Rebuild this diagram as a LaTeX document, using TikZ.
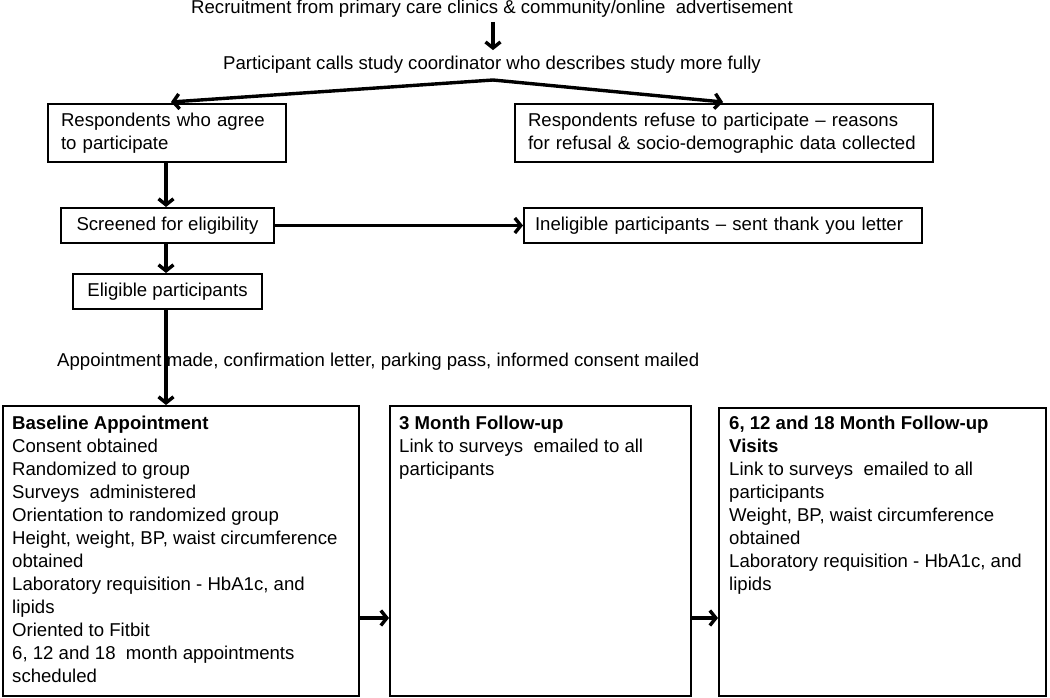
\documentclass[tikz,border=0pt]{standalone}
\usepackage{fontspec}
\setmainfont{Liberation Sans}
\usetikzlibrary{arrows.meta}
\begin{document}
\begin{tikzpicture}[x=1pt,y=-1pt,
  every node/.style={font=\fontsize{18.6}{23}\selectfont},
  box/.style={draw, line width=2pt, inner sep=0pt},
  arr/.style={line width=3.4pt, -{Straight Barb[length=6pt,width=15pt]}},
  txt/.style={inner sep=0pt, align=left, anchor=north west}]
\useasboundingbox (0,0) rectangle (1050,698);
% header texts
\node[inner sep=0pt] (rec) at (492,9) {Recruitment from primary care clinics \& community/online\ \ advertisement};
\node[inner sep=0pt] (call) at (492,65) {Participant calls study coordinator who describes study more fully};
\coordinate (split) at (493,80);
\coordinate (atip) at (171,102);
\coordinate (rtip) at (723,102);
\coordinate (colx) at (166,0);
\coordinate (rowy) at (0,618);
% boxes
\node[box, anchor=north west, minimum height=58pt, text width=212pt, inner xsep=13pt, align=left] (agree) at (47,103) {Respondents who agree\\to participate};
\node[box, anchor=north west, minimum height=58pt, text width=392pt, inner xsep=13pt, align=left] (refuse) at (514,103) {Respondents refuse to participate -- reasons\\for refusal \& socio-demographic data collected};
\node[box, anchor=north west, minimum height=35pt, minimum width=213pt] (screen) at (60,207) {Screened for eligibility};
\node[box, anchor=north west, minimum height=35pt, text width=376pt, inner xsep=11pt, align=left] (inel) at (523,207) {Ineligible participants -- sent thank you letter};
\node[box, anchor=north west, minimum height=35pt, minimum width=189pt] (elig) at (72,273) {Eligible participants};
\node[inner sep=0pt, anchor=west] (appt) at (57,362) {Appointment made, confirmation letter, parking pass, informed consent mailed};
\node[box, anchor=north west, minimum height=290pt, minimum width=356pt] (base) at (2,405) {};
\node[box, anchor=north west, minimum height=290pt, minimum width=301pt] (three) at (389,405) {};
\node[box, anchor=north west, minimum height=288pt, minimum width=327pt] (six) at (718,407) {};
% box texts
\node[txt] (basetxt) at (12,416) {\textbf{Baseline Appointment}\\Consent obtained\\Randomized to group\\Surveys\ \ administered\\Orientation to randomized group\\Height, weight, BP, waist circumference\\obtained\\Laboratory requisition - HbA1c, and\\lipids\\Oriented to Fitbit\\6, 12 and 18\ \ month appointments\\scheduled};
\node[txt] (threetxt) at (399,416) {\textbf{3 Month Follow-up}\\Link to surveys\ \ emailed to all\\participants};
\node[txt] (sixtxt) at (729,416) {\textbf{6, 12 and 18 Month Follow-up}\\\textbf{Visits}\\Link to surveys\ \ emailed to all\\participants\\Weight, BP, waist circumference\\obtained\\Laboratory requisition - HbA1c, and\\lipids};
% connectors
\draw[arr, shorten <=4pt, shorten >=6pt] (rec.south -| split) -- (call.north -| split);
\draw[arr] (split) -- (atip);
\draw[arr] (split) -- (rtip);
\draw[arr] (agree.south -| colx) -- (screen.north -| colx);
\draw[arr] (screen.east) -- (inel.west);
\draw[arr] (screen.south -| colx) -- (elig.north -| colx);
\draw[arr] (elig.south -| colx) -- (base.north -| colx);
\draw[arr] (base.east |- rowy) -- (three.west |- rowy);
\draw[arr] (three.east |- rowy) -- (six.west |- rowy);
\end{tikzpicture}
\end{document}
